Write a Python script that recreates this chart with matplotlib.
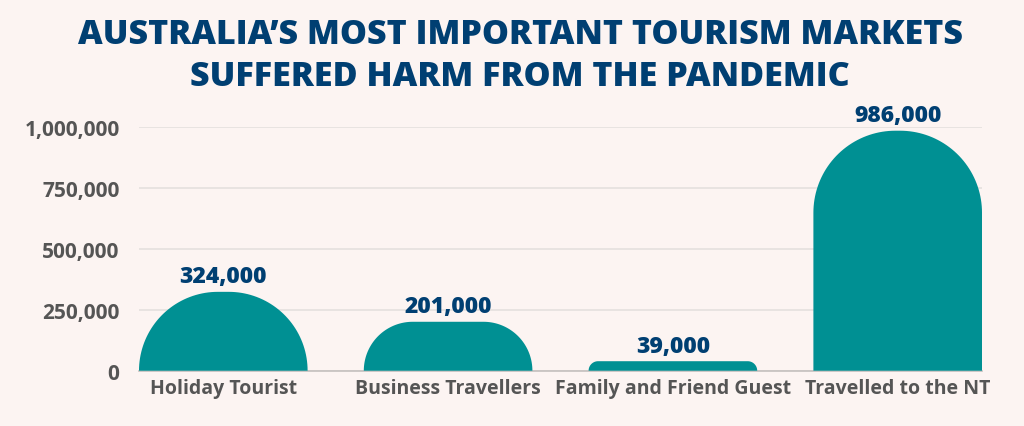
import numpy as np
import matplotlib
matplotlib.use("Agg")
import matplotlib.pyplot as plt
from matplotlib.path import Path
from matplotlib.patches import PathPatch

categories = ["Holiday Tourist", "Business Travellers", "Family and Friend Guest", "Travelled to the NT"]
values = [324000, 201000, 39000, 986000]
value_labels = ["324,000", "201,000", "39,000", "986,000"]
yticks = [0, 250000, 500000, 750000, 1000000]
ytick_labels = ["0", "250,000", "500,000", "750,000", "1,000,000"]
title_lines = ["AUSTRALIA\u2019S MOST IMPORTANT TOURISM MARKETS", "SUFFERED HARM FROM THE PANDEMIC"]

BG = "#fcf4f2"
TEAL = "#009093"
NAVY = "#003f72"
GREY = "#555555"
FONT = ["Open Sans", "DejaVu Sans"]

W, H, DPI = 1024, 427, 100
fig = plt.figure(figsize=(W / DPI, H / DPI), dpi=DPI, facecolor=BG)
left, right = 139 / W, 982 / W
bottom, top = (H - 371.7) / H, (H - 128.3) / H
ax = fig.add_axes([left, bottom, right - left, top - bottom], facecolor=BG)

xlim = (-0.375, 3.375)
ylim = (0, 1000000)
ax.set_xlim(*xlim)
ax.set_ylim(*ylim)

px_per_x = (right - left) * W / (xlim[1] - xlim[0])
px_per_y = (top - bottom) * H / (ylim[1] - ylim[0])

x = np.arange(len(categories))
bars = ax.bar(x, values, width=0.75, color="none", edgecolor="none")

R_PX = 82.0
for b in bars:
    x0, y0 = b.get_x(), b.get_y()
    w, h = b.get_width(), b.get_height()
    h_px = h * px_per_y
    r_px = min(R_PX, h_px, w * px_per_x / 2)
    rx = r_px / px_per_x
    ry = r_px / px_per_y
    verts = [(x0, y0)]
    for a in np.linspace(np.pi, np.pi / 2, 40):
        verts.append((x0 + rx + rx * np.cos(a), y0 + h - ry + ry * np.sin(a)))
    for a in np.linspace(np.pi / 2, 0, 40):
        verts.append((x0 + w - rx + rx * np.cos(a), y0 + h - ry + ry * np.sin(a)))
    verts.append((x0 + w, y0))
    verts.append((x0, y0))
    codes = [Path.MOVETO] + [Path.LINETO] * (len(verts) - 2) + [Path.CLOSEPOLY]
    ax.add_patch(PathPatch(Path(verts, codes), facecolor=TEAL, edgecolor="none", zorder=3))

for xi, v, lab in zip(x, values, value_labels):
    ax.annotate(lab, (xi, v), xytext=(0, 2.5), textcoords="offset points",
                ha="center", va="bottom", color=NAVY, fontsize=16.5,
                fontweight=800, family=FONT,
                clip_on=False, zorder=5)

ax.set_yticks(yticks)
ax.set_yticklabels(ytick_labels)
ax.set_xticks(x)
ax.set_xticklabels(categories)
ax.tick_params(axis="y", length=0, pad=14, labelsize=15, labelcolor=GREY)
ax.tick_params(axis="x", length=0, pad=5, labelsize=14, labelcolor=GREY)
for lbl in ax.get_yticklabels() + ax.get_xticklabels():
    lbl.set_fontweight("bold")
    lbl.set_family(FONT)

ax.grid(axis="y", color="#e4e0de", linewidth=1.2, zorder=0)
ax.set_axisbelow(True)
for s in ["top", "right", "left"]:
    ax.spines[s].set_visible(False)
ax.spines["bottom"].set_color("#c4c0be")
ax.spines["bottom"].set_linewidth(1.2)

for i, line in enumerate(title_lines):
    fig.text(0.508, 1 - (31.5 + 42 * i) / H, line, ha="center", va="center_baseline",
             color=NAVY, fontsize=24.5, fontweight=800, family=FONT)

fig.savefig("out.png", dpi=DPI, facecolor=BG)
